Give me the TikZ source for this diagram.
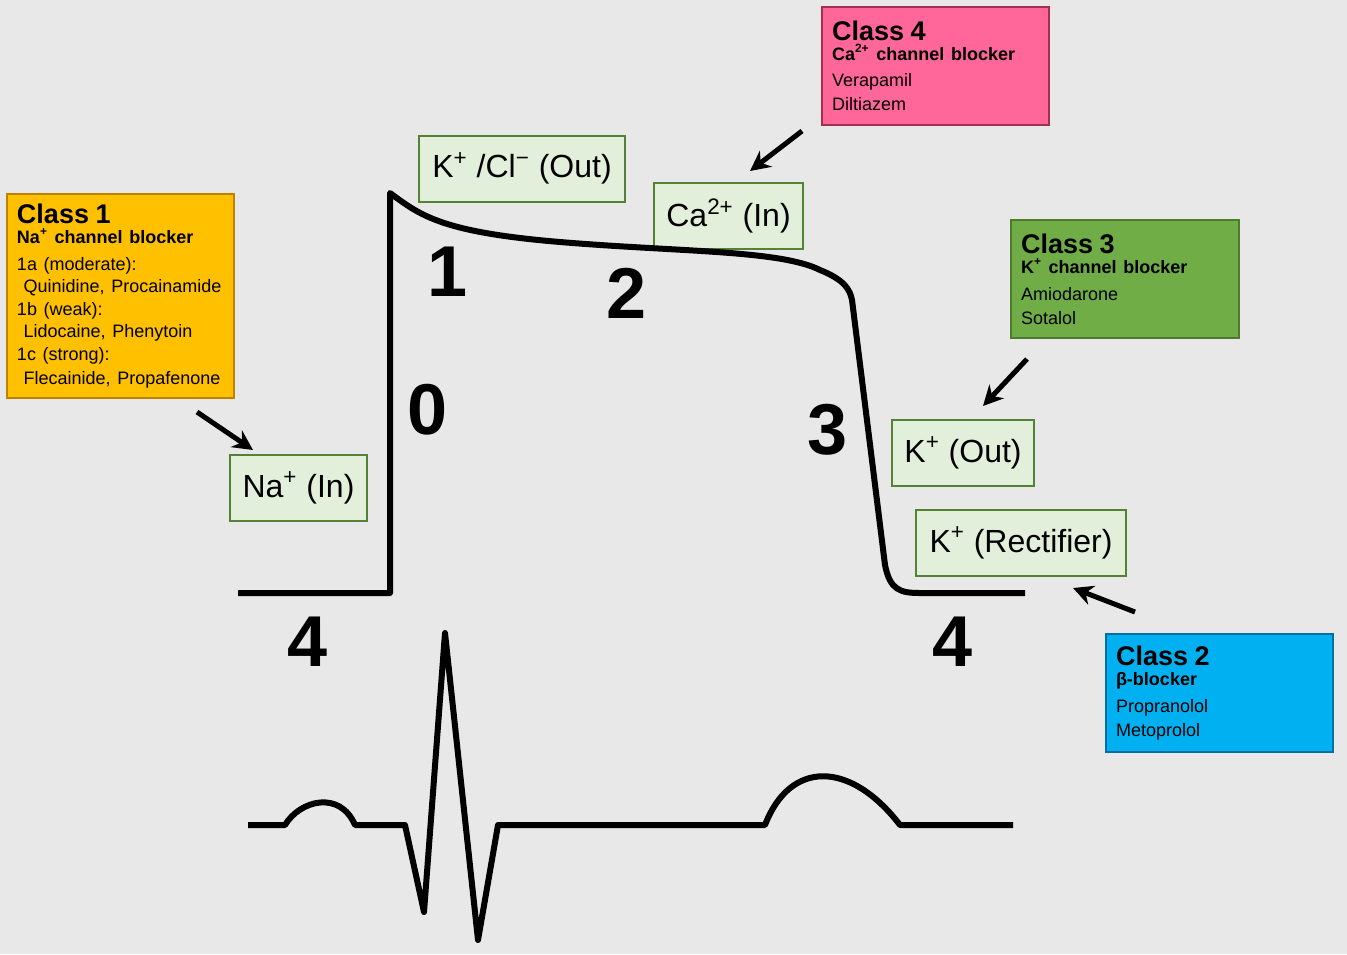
\documentclass[tikz,border=0pt]{standalone}
\usepackage{fontspec}
\setmainfont{Liberation Sans}
\usetikzlibrary{arrows.meta}
\definecolor{bg}{HTML}{E8E8E8}
\definecolor{lgreen}{HTML}{E2EFDA}
\definecolor{gborder}{HTML}{548235}
\definecolor{c1}{HTML}{FFC000}
\definecolor{c1b}{HTML}{C08000}
\definecolor{c4}{HTML}{FF6699}
\definecolor{c4b}{HTML}{A03050}
\definecolor{c3}{HTML}{70AD47}
\definecolor{c3b}{HTML}{4E7A30}
\definecolor{c2}{HTML}{00B0F0}
\definecolor{c2b}{HTML}{0070A0}
\begin{document}
\begin{tikzpicture}[x=0.5pt,y=-0.5pt,
  chan/.style={draw=gborder,fill=lgreen,line width=1pt,font=\fontsize{16}{18}\selectfont,minimum height=33pt,inner xsep=6pt},
  cls/.style={line width=1pt,anchor=north west,align=left,inner xsep=5pt,inner ysep=5pt,text width=#1},
  ttl/.style={},
  curve/.style={line width=3pt,line join=round},
  arr/.style={line width=2.5pt,-{Stealth[length=10pt,width=10pt]}},
  num/.style={font=\fontsize{36}{36}\bfseries\selectfont}]
\useasboundingbox (0,0) rectangle (1347,954);
\fill[bg] (0,0) rectangle (1347,954);
\newcommand{\ttlf}{\fontsize{13.5}{14}\bfseries\selectfont}
\newcommand{\subf}{\fontsize{9}{10}\bfseries\selectfont}
\newcommand{\bodf}{\fontsize{9}{11.3}\selectfont}
% class boxes
\node[cls=103.5pt,draw=c1b,fill=c1,minimum height=101.5pt] (cA) at (6,193) {{\ttlf Class 1}\\[-2pt]{\subf Na\textsuperscript{+} channel blocker}\\[2pt]\bodf 1a (moderate):\\ \bodf\ Quinidine, Procainamide\\ \bodf 1b (weak):\\ \bodf\ Lidocaine, Phenytoin\\ \bodf 1c (strong):\\ \bodf\ Flecainide, Propafenone};
\node[cls=103.5pt,draw=c4b,fill=c4,minimum height=59pt] (cD) at (821,6) {{\ttlf Class 4}\\[-2pt]{\subf Ca\textsuperscript{2+} channel blocker}\\[2pt]\bodf Verapamil\\ \bodf Diltiazem};
\node[cls=104pt,draw=c3b,fill=c3,minimum height=59pt] (cC) at (1010,219) {{\ttlf Class 3}\\[-2pt]{\subf K\textsuperscript{+} channel blocker}\\[2pt]\bodf Amiodarone\\ \bodf Sotalol};
\node[cls=103.5pt,draw=c2b,fill=c2,minimum height=59pt] (cB) at (1105,633) {{\ttlf Class 2}\\[-2pt]{\subf β-blocker}\\[2pt]\bodf Propranolol\\ \bodf Metoprolol};
% channel boxes
\node[chan,minimum width=103pt] (kcl) at (522,168.5) {K\textsuperscript{+} /Cl\textsuperscript{−} (Out)};
\node[chan,minimum width=73.5pt] (ca) at (728.5,216) {Ca\textsuperscript{2+} (In)};
\node[chan,minimum width=68.5pt] (na) at (298.5,488) {Na\textsuperscript{+} (In)};
\node[chan,minimum width=71pt] (ko) at (963,453) {K\textsuperscript{+} (Out)};
\node[chan,minimum width=105pt] (kr) at (1021,543) {K\textsuperscript{+} (Rectifier)};
% arrows
\coordinate (a1) at (197,412); \coordinate (a1e) at (253,450);
\coordinate (a4) at (802,131); \coordinate (a4e) at (750,171);
\coordinate (a3) at (1027,359); \coordinate (a3e) at (983,406);
\coordinate (a2) at (1135,612); \coordinate (a2e) at (1073,588);
\draw[arr] (a1) -- (a1e);
\draw[arr] (a4) -- (a4e);
\draw[arr] (a3) -- (a3e);
\draw[arr] (a2) -- (a2e);
% action potential
\draw[curve] (238,593) -- (390,593) -- (390,193) .. controls (420,215) and (440,232) .. (560,242)
  .. controls (680,252) and (780,250) .. (820,270) .. controls (845,280) and (850,290) .. (852,300)
  -- (885,565) .. controls (890,590) and (900,593) .. (920,593) -- (1025,593);
% ECG
\draw[curve] (248,825) -- (285,825) .. controls (300,800) and (340,790) .. (355,825) -- (405,825)
  -- (424,912) -- (445,633) -- (478,940) -- (498,825) -- (765,825)
  .. controls (790,760) and (850,760) .. (900,825) -- (1013,825);
% numbers
\node[num] (n0) at (428,410) {0};
\node[num] (n1) at (448,272) {1};
\node[num] (n2) at (627,293) {2};
\node[num] (n3) at (828,430) {3};
\node[num] (n4a) at (308,642) {4};
\node[num] (n4b) at (953,642) {4};
\end{tikzpicture}
\end{document}
